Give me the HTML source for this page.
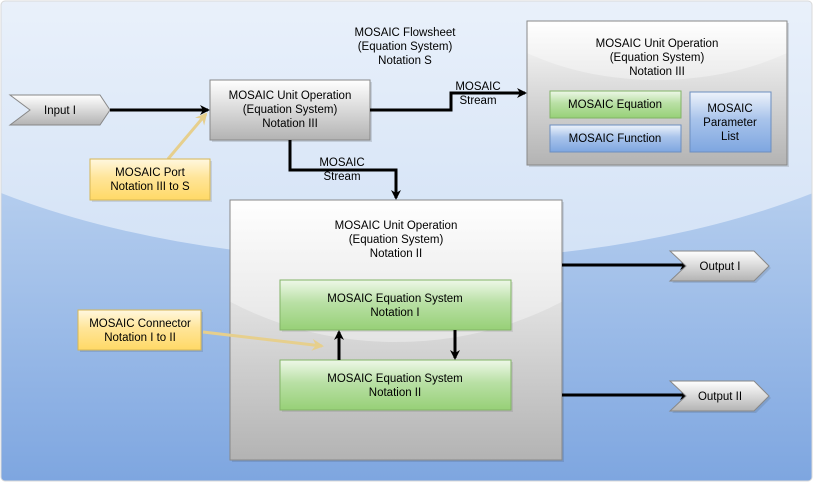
<!DOCTYPE html>
<html><head><style>
html,body{margin:0;padding:0;background:#fff}
svg text{font-family:"Liberation Sans",sans-serif;font-size:11.5px;fill:#000;text-anchor:middle}
</style></head><body>
<svg width="814" height="485" viewBox="0 0 814 485" xmlns="http://www.w3.org/2000/svg">
<defs>
<linearGradient id="bg" x1="0" y1="0" x2="0" y2="1">
<stop offset="0" stop-color="#dde8f8"/><stop offset="0.4" stop-color="#b4cdee"/><stop offset="1" stop-color="#7ea6e0"/></linearGradient>
<linearGradient id="gl" x1="0" y1="0" x2="0" y2="1">
<stop offset="0" stop-color="#ffffff"/><stop offset="1" stop-color="#d3e2f6"/></linearGradient>
<linearGradient id="gray" x1="0" y1="0" x2="0" y2="1">
<stop offset="0" stop-color="#ffffff"/><stop offset="1" stop-color="#b3b3b3"/></linearGradient>
<linearGradient id="green" x1="0" y1="0" x2="0" y2="1">
<stop offset="0" stop-color="#eef8e8"/><stop offset="0.45" stop-color="#b9e0a5"/><stop offset="1" stop-color="#97d077"/></linearGradient>
<linearGradient id="blue" x1="0" y1="0" x2="0" y2="1">
<stop offset="0" stop-color="#eef3fb"/><stop offset="0.45" stop-color="#a9c4eb"/><stop offset="1" stop-color="#7ea6e0"/></linearGradient>
<linearGradient id="yel" x1="0" y1="0" x2="0" y2="1">
<stop offset="0" stop-color="#fff8e0"/><stop offset="0.45" stop-color="#ffe599"/><stop offset="1" stop-color="#ffd966"/></linearGradient>
<marker id="ah" markerWidth="10" markerHeight="10" refX="8" refY="5" orient="auto" markerUnits="userSpaceOnUse">
<path d="M0,0 L10,5 L0,10 L3,5 Z" fill="#000"/></marker>
<marker id="ahy" markerWidth="12" markerHeight="12" refX="10" refY="6" orient="auto" markerUnits="userSpaceOnUse">
<path d="M0,0 L12,6 L0,12 L4,6 Z" fill="#e6cf8d"/></marker>
<clipPath id="bgc"><rect x="1" y="1" width="811" height="480" rx="4"/></clipPath>
<clipPath id="bigc"><rect x="230" y="200" width="332" height="260"/></clipPath>
<clipPath id="trc"><rect x="527" y="21" width="260" height="144"/></clipPath>
</defs>
<g clip-path="url(#bgc)">
<rect x="1" y="1" width="811" height="480" fill="url(#bg)"/>
<ellipse cx="407" cy="3" rx="600" ry="258" fill="url(#gl)"/>
</g>
<rect x="1" y="1" width="811" height="480" rx="4" fill="none" stroke="#d9d9d9"/>

<text x="405" y="36">MOSAIC Flowsheet</text>
<text x="405" y="50">(Equation System)</text>
<text x="405" y="64">Notation S</text>

<!-- Input I -->
<path d="M10,95 L100,95 L110,110 L100,125 L10,125 L30,110 Z" fill="url(#gray)" stroke="#888"/>
<text x="60" y="114">Input I</text>
<line x1="110" y1="110" x2="208" y2="110" stroke="#000" stroke-width="3" marker-end="url(#ah)"/>

<!-- Unit op III -->
<rect x="212" y="82" width="160" height="60" fill="#000" opacity="0.12"/>
<rect x="210" y="80" width="160" height="60" fill="url(#gray)" stroke="#888"/>
<text x="290" y="99">MOSAIC Unit Operation</text>
<text x="290" y="113">(Equation System)</text>
<text x="290" y="127">Notation III</text>

<polyline points="370,110 451,110 451,93 525,93" fill="none" stroke="#000" stroke-width="3" marker-end="url(#ah)"/>
<text x="478" y="90">MOSAIC</text>
<text x="478" y="104">Stream</text>
<polyline points="290,140 290,170 396,170 396,198" fill="none" stroke="#000" stroke-width="3" marker-end="url(#ah)"/>
<text x="342" y="166">MOSAIC</text>
<text x="342" y="180">Stream</text>

<!-- Port note -->
<line x1="168" y1="159" x2="206" y2="114" stroke="#e6cf8d" stroke-width="3" marker-end="url(#ahy)"/>
<rect x="92" y="161" width="120" height="41" fill="#000" opacity="0.1"/>
<rect x="90" y="159" width="120" height="41" fill="url(#yel)" stroke="#d6b656"/>
<text x="150" y="176">MOSAIC Port</text>
<text x="150" y="190">Notation III to S</text>

<!-- top right box -->
<rect x="529" y="23" width="260" height="144" fill="#000" opacity="0.12"/>
<rect x="527" y="21" width="260" height="144" fill="url(#gray)"/>
<ellipse cx="657" cy="-60" rx="220" ry="140" fill="#fff" opacity="0.35" clip-path="url(#trc)"/>
<rect x="527" y="21" width="260" height="144" fill="none" stroke="#888"/>
<text x="657" y="47">MOSAIC Unit Operation</text>
<text x="657" y="61">(Equation System)</text>
<text x="657" y="75">Notation III</text>
<rect x="550" y="91" width="131" height="27" fill="url(#green)" stroke="#82b366"/>
<text x="615" y="108">MOSAIC Equation</text>
<rect x="550" y="125" width="131" height="27" fill="url(#blue)" stroke="#6c8ebf"/>
<text x="615" y="142">MOSAIC Function</text>
<rect x="690" y="92" width="81" height="60" fill="url(#blue)" stroke="#6c8ebf"/>
<text x="730" y="112">MOSAIC</text>
<text x="730" y="126">Parameter</text>
<text x="730" y="140">List</text>

<!-- big box -->
<rect x="232" y="202" width="332" height="260" fill="#000" opacity="0.1"/>
<rect x="230" y="200" width="332" height="260" fill="url(#gray)"/>
<ellipse cx="396" cy="100" rx="300" ry="242" fill="#fff" opacity="0.35" clip-path="url(#bigc)"/>
<rect x="230" y="200" width="332" height="260" fill="none" stroke="#888"/>
<text x="396" y="229">MOSAIC Unit Operation</text>
<text x="396" y="243">(Equation System)</text>
<text x="396" y="257">Notation II</text>
<rect x="282" y="282" width="231" height="50" fill="#000" opacity="0.08"/>
<rect x="280" y="280" width="231" height="50" fill="url(#green)" stroke="#82b366"/>
<text x="395" y="302">MOSAIC Equation System</text>
<text x="395" y="316">Notation I</text>
<rect x="282" y="362" width="231" height="50" fill="#000" opacity="0.08"/>
<rect x="280" y="360" width="231" height="50" fill="url(#green)" stroke="#82b366"/>
<text x="395" y="382">MOSAIC Equation System</text>
<text x="395" y="396">Notation II</text>
<line x1="339" y1="360" x2="339" y2="332" stroke="#000" stroke-width="3" marker-end="url(#ah)"/>
<line x1="455" y1="330" x2="455" y2="358" stroke="#000" stroke-width="3" marker-end="url(#ah)"/>

<!-- connector note -->
<line x1="203" y1="332" x2="322" y2="346" stroke="#e6cf8d" stroke-width="3" marker-end="url(#ahy)"/>
<rect x="80" y="312" width="123" height="40" fill="#000" opacity="0.1"/>
<rect x="78" y="310" width="123" height="40" fill="url(#yel)" stroke="#d6b656"/>
<text x="140" y="327">MOSAIC Connector</text>
<text x="140" y="341">Notation I to II</text>

<!-- outputs -->
<line x1="562" y1="265" x2="688" y2="265" stroke="#000" stroke-width="3" marker-end="url(#ah)"/>
<line x1="562" y1="395" x2="688" y2="395" stroke="#000" stroke-width="3" marker-end="url(#ah)"/>
<path d="M672,253 L756,253 L771,268 L756,283 L672,283 L688,268 Z" fill="#000" opacity="0.1"/>
<path d="M670,251 L754,251 L769,266 L754,281 L670,281 L686,266 Z" fill="url(#gray)" stroke="#888"/>
<text x="720" y="270">Output I</text>
<path d="M672,383 L756,383 L771,398 L756,413 L672,413 L688,398 Z" fill="#000" opacity="0.1"/>
<path d="M670,381 L754,381 L769,396 L754,411 L670,411 L686,396 Z" fill="url(#gray)" stroke="#888"/>
<text x="720" y="400">Output II</text>
</svg>
</body></html>
